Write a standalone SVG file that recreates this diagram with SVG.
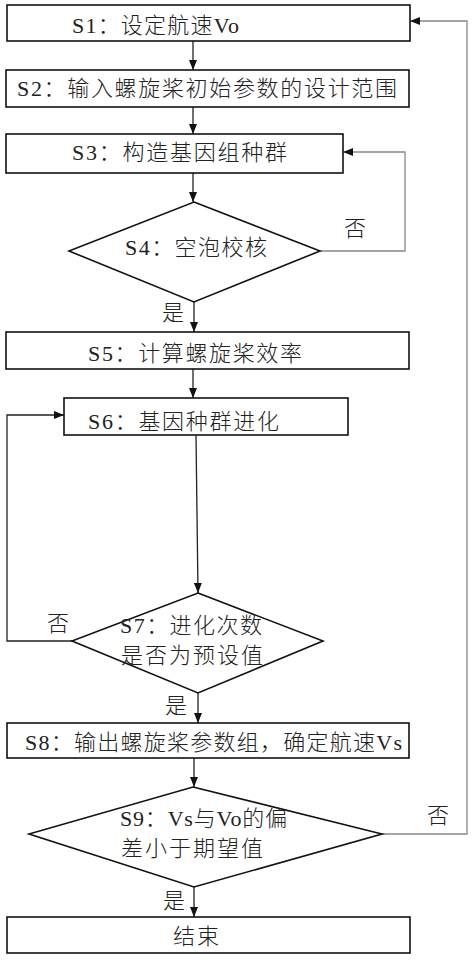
<svg xmlns="http://www.w3.org/2000/svg" width="474" height="960" viewBox="0 0 474 960">
<style>
.box{fill:#fff;stroke:#111;stroke-width:1.6}
.t{font-family:"Liberation Serif","Noto Sans CJK SC",serif;font-size:22px;font-weight:300;fill:#222}
.c{fill:none;stroke:#222;stroke-width:1.3}
.g{fill:none;stroke:#888;stroke-width:1.3}
</style>
<defs>
<marker id="ah" markerUnits="userSpaceOnUse" markerWidth="10" markerHeight="8" refX="10" refY="4" orient="auto">
<path d="M0,0 L10,4 L0,8 z" fill="#111"/>
</marker>
</defs>
<rect width="474" height="960" fill="#fff"/>
<g id="connectors">
<path class="c" d="M193,41 V70" marker-end="url(#ah)"/>
<path class="c" d="M193,107 V134" marker-end="url(#ah)"/>
<path class="c" d="M193,173 V202" marker-end="url(#ah)"/>
<path class="g" d="M320,251 H405 V152 H343" marker-end="url(#ah)"/>
<path class="c" d="M194,302 V332" marker-end="url(#ah)"/>
<path class="c" d="M193,369 V398" marker-end="url(#ah)"/>
<path class="c" d="M196,435 L198,593" marker-end="url(#ah)"/>
<path class="c" d="M72,641 H7 V415 H64" marker-end="url(#ah)"/>
<path class="c" d="M198,693 V723" marker-end="url(#ah)"/>
<path class="c" d="M194,758 V787" marker-end="url(#ah)"/>
<path class="g" d="M382,834 H467 V21 H410" marker-end="url(#ah)"/>
<path class="c" d="M194,887 V917" marker-end="url(#ah)"/>
<text class="t" x="344" y="236">否</text>
<text class="t" x="162" y="320">是</text>
<text class="t" x="47" y="631">否</text>
<text class="t" x="165" y="713">是</text>
<text class="t" x="427" y="823">否</text>
<text class="t" x="163" y="908">是</text>
</g>
<g id="S1"><rect class="box" x="7" y="5" width="403" height="36"/><text class="t" x="72" y="33" textLength="167" lengthAdjust="spacing">S1：设定航速Vo</text></g>
<g id="S2"><rect class="box" x="6" y="70" width="403" height="37"/><text class="t" x="17" y="96" textLength="380" lengthAdjust="spacing">S2：输入螺旋桨初始参数的设计范围</text></g>
<g id="S3"><rect class="box" x="6" y="134" width="337" height="39"/><text class="t" x="72" y="160" textLength="215" lengthAdjust="spacing">S3：构造基因组种群</text></g>
<g id="S4"><polygon class="box" points="194,202 320,251 194,302 69,251"/><text class="t" x="125" y="255" textLength="142" lengthAdjust="spacing">S4：空泡校核</text></g>
<g id="S5"><rect class="box" x="6" y="332" width="403" height="37"/><text class="t" x="88" y="361" textLength="214" lengthAdjust="spacing">S5：计算螺旋桨效率</text></g>
<g id="S6"><rect class="box" x="64" y="398" width="284" height="37"/><text class="t" x="88" y="429" textLength="191" lengthAdjust="spacing">S6：基因种群进化</text></g>
<g id="S7"><polygon class="box" points="198,593 323,641 198,693 72,641"/><text class="t" x="120" y="633" textLength="142" lengthAdjust="spacing">S7：进化次数</text><text class="t" x="121" y="663" textLength="142" lengthAdjust="spacing">是否为预设值</text></g>
<g id="S8"><rect class="box" x="7" y="723" width="402" height="35"/><text class="t" x="25" y="750" textLength="377" lengthAdjust="spacing">S8：输出螺旋桨参数组，确定航速Vs</text></g>
<g id="S9"><polygon class="box" points="193,787 382,834 194,887 29,834"/><text class="t" x="120" y="826" textLength="167" lengthAdjust="spacing">S9：Vs与Vo的偏</text><text class="t" x="121" y="856" textLength="142" lengthAdjust="spacing">差小于期望值</text></g>
<g id="End"><rect class="box" x="7" y="917" width="403" height="36"/><text class="t" x="173" y="944" textLength="46" lengthAdjust="spacing">结束</text></g>
</svg>
